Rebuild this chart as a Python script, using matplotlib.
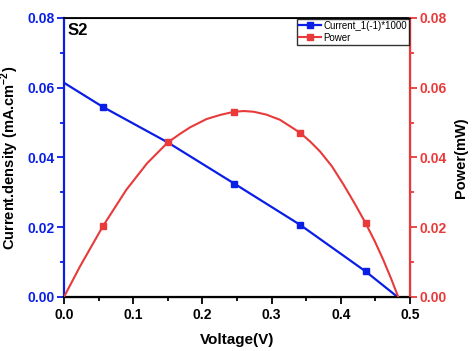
import matplotlib
matplotlib.use("Agg")
import matplotlib.pyplot as plt
from matplotlib.ticker import MultipleLocator

plt.rcParams['font.family'] = ['Liberation Sans', 'DejaVu Sans']
plt.rcParams['mathtext.fontset'] = 'custom'
plt.rcParams['mathtext.rm'] = 'Liberation Sans:bold'
plt.rcParams['mathtext.bf'] = 'Liberation Sans:bold'

# Current density curve (mA.cm-2)
volt_i = [0.0, 0.056, 0.15, 0.246, 0.341, 0.436, 0.482]
current = [0.0614, 0.0545, 0.0443, 0.0325, 0.0207, 0.0073, 0.0]
current_marks = [1, 3, 4, 5]

# Power curve (mW)
volt_p = [0.0, 0.023, 0.056, 0.09, 0.12, 0.15, 0.168, 0.182, 0.206, 0.226, 0.246,
          0.26, 0.274, 0.292, 0.312, 0.341, 0.356, 0.37, 0.387, 0.404, 0.42,
          0.436, 0.449, 0.461, 0.472, 0.483]
power = [0.0, 0.0087, 0.0202, 0.0307, 0.0383, 0.0443, 0.0468, 0.0486, 0.051, 0.0522, 0.0531,
         0.0533, 0.0531, 0.0523, 0.0508, 0.0471, 0.0445, 0.0417, 0.0375, 0.0322, 0.0268,
         0.0211, 0.016, 0.0108, 0.0056, 0.0]
power_marks = [2, 5, 10, 15, 21]

blue = '#0a1ee6'
red = '#e83a3a'

fig = plt.figure(figsize=(4.74, 3.51), dpi=100)
ax = fig.add_axes([0.135, 0.154, 0.73, 0.795])
ax2 = ax.twinx()

l1, = ax.plot(volt_i, current, color=blue, lw=1.6, marker='s', ms=4.5,
              markevery=current_marks, label='Current_1(-1)*1000')
l2, = ax2.plot(volt_p, power, color=red, lw=1.5, marker='s', ms=4.5,
               markevery=power_marks, label='Power')

ax.set_xlim(0, 0.5)
ax.set_ylim(0, 0.08)
ax2.set_ylim(0, 0.08)

ax.xaxis.set_major_locator(MultipleLocator(0.1))
ax.xaxis.set_minor_locator(MultipleLocator(0.05))
ax.yaxis.set_major_locator(MultipleLocator(0.02))
ax.yaxis.set_minor_locator(MultipleLocator(0.01))
ax2.yaxis.set_major_locator(MultipleLocator(0.02))
ax2.yaxis.set_minor_locator(MultipleLocator(0.01))

ax.xaxis.set_major_formatter(lambda v, p: f"{v:.1f}")
ax.yaxis.set_major_formatter(lambda v, p: f"{v:.2f}")
ax2.yaxis.set_major_formatter(lambda v, p: f"{v:.2f}")

ax.tick_params(axis='x', which='both', direction='out', width=1.3, labelsize=10, pad=3)
ax.tick_params(axis='x', which='major', length=5)
ax.tick_params(axis='x', which='minor', length=3)
ax.tick_params(axis='y', which='both', direction='out', colors=blue, width=1.3, labelsize=10, pad=2)
ax.tick_params(axis='y', which='major', length=5)
ax.tick_params(axis='y', which='minor', length=3)
ax2.tick_params(axis='y', which='both', direction='out', colors=red, width=1.3, labelsize=10, pad=2)
ax2.tick_params(axis='y', which='major', length=5)
ax2.tick_params(axis='y', which='minor', length=3)

for lab in ax.get_xticklabels() + ax.get_yticklabels() + ax2.get_yticklabels():
    lab.set_fontweight('bold')

ax.spines['left'].set_color(blue)
ax.spines['left'].set_linewidth(1.6)
ax.spines['bottom'].set_linewidth(1.6)
ax.spines['top'].set_linewidth(1.3)
ax2.spines['right'].set_color(red)
ax2.spines['right'].set_linewidth(1.6)
ax2.spines['left'].set_visible(False)

ax.set_xlabel('Voltage(V)', fontsize=11, fontweight='bold', labelpad=8)
ax.set_ylabel('Current.density (mA.cm$^{-2}$)', fontsize=10.5, fontweight='bold', labelpad=4)
ax2.set_ylabel('Power(mW)', fontsize=10.5, fontweight='bold', labelpad=5)

ax.text(0.005, 0.0785, 'S2', fontsize=12, fontweight='bold', va='top', ha='left')

leg = ax2.legend(handles=[l1, l2], loc='upper right', fontsize=7, frameon=True,
                 fancybox=False, edgecolor='black', borderpad=0.2, handlelength=2.2,
                 handletextpad=0.3, labelspacing=0.2, borderaxespad=0.1)
leg.get_frame().set_linewidth(1.0)

fig.savefig('out.png', dpi=100)
